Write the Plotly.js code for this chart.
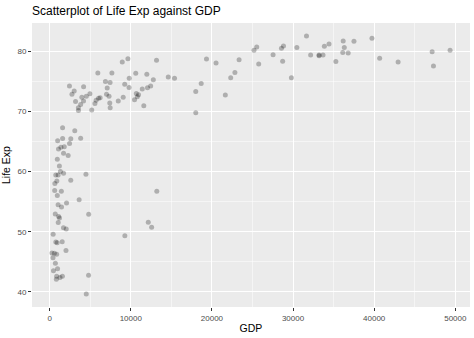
<!DOCTYPE html>
<html>
<head>
<meta charset="utf-8">
<script src="https://cdn.plot.ly/plotly-3.0.1.min.js"></script>
<style>html,body{margin:0;padding:0;background:#fff;}#chart{width:474px;height:338px;}</style>
</head>
<body>
<div id="chart"></div>
<script>
// Gapminder 2007: GDP per capita and life expectancy
const countries = ["Afghanistan","Albania","Algeria","Angola","Argentina","Australia","Austria","Bahrain","Bangladesh","Belgium","Benin","Bolivia","Bosnia and Herzegovina","Botswana","Brazil","Bulgaria","Burkina Faso","Burundi","Cambodia","Cameroon","Canada","Central African Republic","Chad","Chile","China","Colombia","Comoros","Congo, Dem. Rep.","Congo, Rep.","Costa Rica","Cote d'Ivoire","Croatia","Cuba","Czech Republic","Denmark","Djibouti","Dominican Republic","Ecuador","Egypt","El Salvador","Equatorial Guinea","Eritrea","Ethiopia","Finland","France","Gabon","Gambia","Germany","Ghana","Greece","Guatemala","Guinea","Guinea-Bissau","Haiti","Honduras","Hong Kong","Hungary","Iceland","India","Indonesia","Iran","Iraq","Ireland","Israel","Italy","Jamaica","Japan","Jordan","Kenya","Korea, Dem. Rep.","Korea, Rep.","Kuwait","Lebanon","Lesotho","Liberia","Libya","Madagascar","Malawi","Malaysia","Mali","Mauritania","Mauritius","Mexico","Mongolia","Montenegro","Morocco","Mozambique","Myanmar","Namibia","Nepal","Netherlands","New Zealand","Nicaragua","Niger","Nigeria","Norway","Oman","Pakistan","Panama","Paraguay","Peru","Philippines","Poland","Portugal","Puerto Rico","Reunion","Romania","Rwanda","Sao Tome and Principe","Saudi Arabia","Senegal","Serbia","Sierra Leone","Singapore","Slovak Republic","Slovenia","Somalia","South Africa","Spain","Sri Lanka","Sudan","Swaziland","Sweden","Switzerland","Syria","Taiwan","Tanzania","Thailand","Togo","Trinidad and Tobago","Tunisia","Turkey","Uganda","United Kingdom","United States","Uruguay","Venezuela","Vietnam","West Bank and Gaza","Yemen, Rep.","Zambia","Zimbabwe"];
const gdp = [974.58,5937.03,6223.37,4797.23,12779.38,34435.37,36126.49,29796.05,1391.25,33692.61,1441.28,3822.14,7446.30,12569.85,9065.80,10680.79,1217.03,430.07,1713.78,2042.10,36319.24,706.02,1704.06,13171.64,4959.11,7006.58,986.15,277.55,3632.56,9645.06,1544.75,14619.22,8948.10,22833.31,35278.42,2082.48,6025.37,6873.26,5581.18,5728.35,12154.09,641.37,690.81,33207.08,30470.02,13206.48,752.75,32170.37,1327.61,27538.41,5186.05,942.65,579.23,1201.64,3548.33,39724.98,18008.94,36180.79,2452.21,3540.65,11605.71,4471.06,40676.00,25523.28,28569.72,7320.88,31656.07,4519.46,1463.25,1593.07,23348.14,47306.99,10461.06,1569.33,414.51,12057.50,1044.77,759.35,12451.66,1042.58,1803.15,10956.99,11977.57,3095.77,9253.90,3820.18,823.69,944.00,4811.06,1091.36,36797.93,25185.01,2749.32,619.68,2013.98,49357.19,22316.19,2605.95,9809.19,4172.84,7408.91,3190.48,15389.92,20509.65,19328.71,7670.12,10808.48,863.09,1598.44,21654.83,1712.47,9786.53,862.54,47143.18,18678.31,25768.26,926.14,9269.66,28821.06,3970.10,2602.39,4513.48,33859.75,37506.42,4184.55,28718.28,1107.48,7458.40,882.97,18008.51,7092.92,8458.28,1056.38,33203.26,42951.65,10611.46,11415.81,2441.58,3025.35,2280.77,1271.21,469.71];
const lifeExp = [43.83,76.42,72.30,42.73,75.32,81.24,79.83,75.64,64.06,79.44,56.73,65.55,74.85,50.73,72.39,73.00,52.30,49.58,59.72,50.43,80.65,44.74,50.65,78.55,72.96,72.89,65.15,46.46,55.32,78.78,48.33,75.75,78.27,76.49,78.33,54.79,72.24,74.99,71.34,71.88,51.58,58.04,52.95,79.31,80.66,56.74,59.45,79.41,60.02,79.48,70.26,56.01,46.39,60.92,70.20,82.21,73.34,81.76,64.70,70.65,70.96,59.55,78.89,80.75,80.55,72.57,82.60,72.54,54.11,67.30,78.62,77.59,71.99,42.59,45.68,73.95,59.44,48.30,74.24,54.47,64.16,72.80,76.20,66.80,74.54,71.16,42.08,62.07,52.91,63.79,79.76,80.20,72.90,56.87,46.86,80.20,75.64,65.48,75.54,71.75,71.42,71.69,75.56,78.10,78.75,76.44,72.48,46.24,65.53,72.78,63.06,74.00,42.57,79.97,74.66,77.93,48.16,49.34,80.94,72.40,58.56,39.61,80.88,81.70,74.14,78.40,52.52,70.62,58.42,69.82,73.92,71.78,51.54,79.43,78.24,76.38,73.75,74.25,73.42,62.70,42.38,43.49];

const xTicks = [0,10000,20000,30000,40000,50000];
const yTicks = [40,50,60,70,80];
const FONT = 'Liberation Sans, Arial, sans-serif';

const trace = {
  type: 'scatter', mode: 'markers',
  x: gdp, y: lifeExp, text: countries,
  marker: {color: 'rgba(0,0,0,0.26)', size: 5, line: {width: 0}},
  hoverinfo: 'text+x+y'
};

const axisCommon = {
  showgrid: true, gridcolor: '#ffffff', gridwidth: 1.1,
  zeroline: false, showline: false,
  ticks: 'outside', ticklen: 3, tickwidth: 1, tickcolor: '#333333',
  tickfont: {family: FONT, size: 8, color: '#4d4d4d'},
  minor: {showgrid: true, gridcolor: '#ffffff', gridwidth: 0.5, ticks: ''}
};

const layout = {
  width: 474, height: 338,
  margin: {l: 32, r: 4, t: 23, b: 31},
  paper_bgcolor: '#ffffff', plot_bgcolor: '#ebebeb',
  showlegend: false,
  title: {text: 'Scatterplot of Life Exp against GDP', x: 32/474, xanchor: 'left', y: 1 - 11/338, yanchor: 'middle',
          font: {family: FONT, size: 12, color: '#000000'}},
  xaxis: Object.assign({}, axisCommon, {
    range: [-2176, 51811], tickmode: 'array', tickvals: xTicks, ticktext: xTicks.map(String),
    minor: Object.assign({}, axisCommon.minor, {tickmode: 'array', tickvals: [5000,15000,25000,35000,45000]}),
    title: {text: 'GDP', standoff: 3, font: {family: FONT, size: 10.5, color: '#000000'}}
  }),
  yaxis: Object.assign({}, axisCommon, {
    range: [37.46, 84.75], tickmode: 'array', tickvals: yTicks, ticktext: yTicks.map(String),
    minor: Object.assign({}, axisCommon.minor, {tickmode: 'array', tickvals: [45,55,65,75]}),
    title: {text: 'Life Exp', standoff: 5, font: {family: FONT, size: 10.5, color: '#000000'}}
  })
};

Plotly.newPlot('chart', [trace], layout, {staticPlot: true, displayModeBar: false});
</script>
</body>
</html>
